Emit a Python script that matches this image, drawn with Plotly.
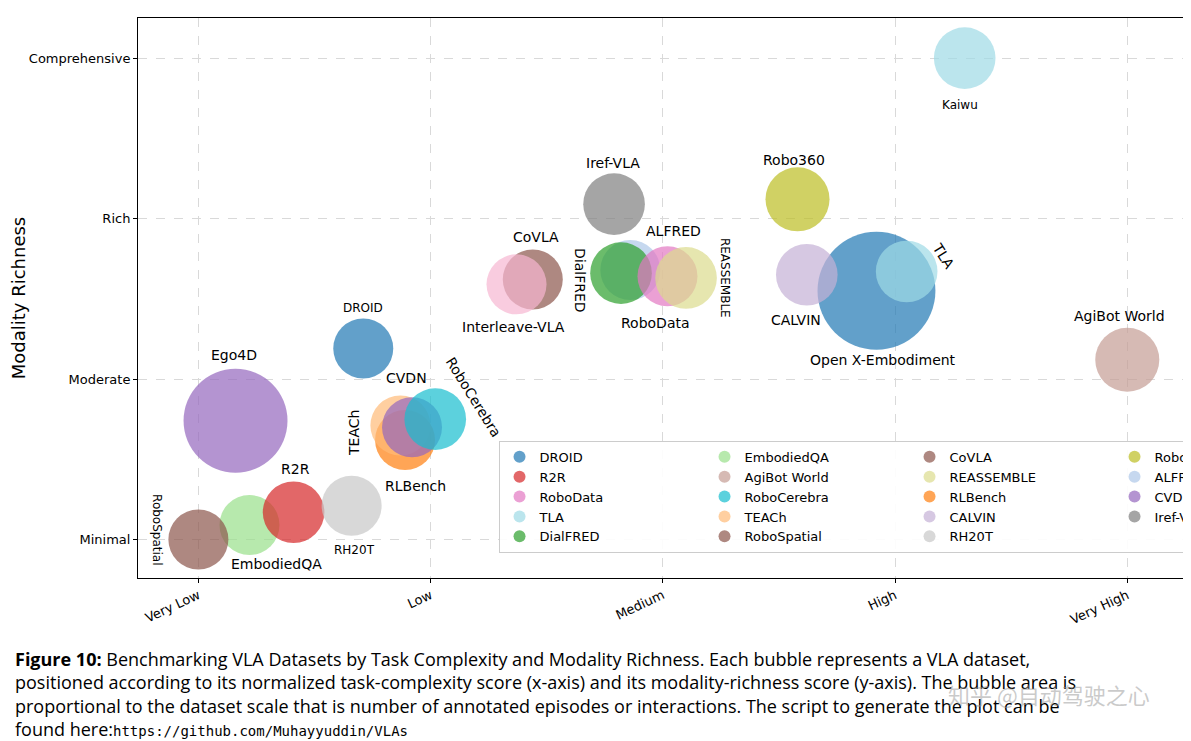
import plotly.graph_objects as go

x_ticks = ["Very Low", "Low", "Medium", "High", "Very High"]
y_ticks = ["Minimal", "Moderate", "Rich", "Comprehensive"]

names = ["DROID", "Open X-Embodiment", "ALFRED", "RLBench", "TEACh", "DialFRED",
         "EmbodiedQA", "R2R", "Ego4D", "CVDN", "CALVIN", "RoboSpatial",
         "CoVLA", "AgiBot World", "RoboData", "Interleave-VLA", "Iref-VLA", "RH20T",
         "Robo360", "REASSEMBLE", "RoboCerebra", "TLA", "Kaiwu"]
complexity = [0.71, 2.92, 1.86, 0.89, 0.87, 1.82,
              0.22, 0.41, 0.16, 0.92, 2.62, 0.0,
              1.44, 4.0, 2.02, 1.37, 1.79, 0.66,
              2.58, 2.10, 1.02, 3.05, 3.30]
richness = [1.19, 1.55, 1.68, 0.62, 0.71, 1.66,
            0.09, 0.17, 0.74, 0.70, 1.65, 0.0,
            1.62, 1.12, 1.64, 1.59, 2.09, 0.21,
            2.12, 1.63, 0.75, 1.67, 3.0]
scale = [36, 139, 36, 36, 36, 38,
         36, 38, 108, 36, 38, 36,
         36, 41, 36, 36, 38, 36,
         41, 38, 38, 38, 38]
colors = ["#1f77b4", "#1f77b4", "#aec7e8", "#ff7f0e", "#ffbb78", "#2ca02c",
          "#98df8a", "#d62728", "#9467bd", "#9467bd", "#c5b0d5", "#8c564b",
          "#8c564b", "#c49c94", "#e377c2", "#f7b6d2", "#7f7f7f", "#c7c7c7",
          "#bcbd22", "#dbdb8d", "#17becf", "#9edae5", "#9edae5"]

# label offsets in pixels (dx, dy screen) and rotation
label_off = {
    "DROID": (0, -41, 0), "Open X-Embodiment": (7, 69, 0), "ALFRED": (43, -39, 0),
    "RLBench": (10, 46, 0), "TEACh": (-47, 7, -90), "DialFRED": (-41, 7, 90),
    "EmbodiedQA": (27, 39, 0), "R2R": (2, -43, 0), "Ego4D": (-2, -66, 0),
    "CVDN": (-6, -49, 0), "CALVIN": (-11, 45, 0), "RoboSpatial": (-42, -10, 90),
    "CoVLA": (3, -43, 0), "AgiBot World": (-8, -44, 0), "RoboData": (-12, 47, 0),
    "Interleave-VLA": (-3, 43, 0), "Iref-VLA": (-1, -41, 0), "RH20T": (3, 44, 0),
    "Robo360": (-4, -39, 0), "REASSEMBLE": (39, 0, 90), "RoboCerebra": (38, -22, 58),
    "TLA": (37, -16, 58), "Kaiwu": (-5, 47, 0),
}
small = {"DROID", "RH20T", "Kaiwu", "RoboSpatial", "REASSEMBLE"}

fig = go.Figure()
# legend order (row-major) reproduces the 4-column matplotlib legend
order = [0, 6, 12, 18, 1, 7, 13, 19, 2, 8, 14, 20, 3, 9, 15, 21, 4, 10, 16, 22, 5, 11, 17]
for i in range(len(names)):
    fig.add_trace(go.Scatter(
        x=[complexity[i]], y=[richness[i]], mode="markers", name=names[i],
        marker=dict(size=[scale[i]], sizemode="area", sizeref=0.02,
                    color=colors[i], opacity=0.7, line=dict(width=0)),
        legendrank=order.index(i) + 1,
    ))
    dx, dy, ang = label_off[names[i]]
    fig.add_annotation(x=complexity[i], y=richness[i], text=names[i], showarrow=False,
                       xshift=dx, yshift=-dy, textangle=ang,
                       font=dict(size=12 if names[i] in small else 14, color="black"))

grid = dict(showgrid=True, gridcolor="#d9d9d9", griddash="dash", gridwidth=1,
            showline=True, linecolor="black", mirror=True, zeroline=False,
            ticks="outside", tickcolor="black", ticklen=4,
            tickfont=dict(size=13, color="black"))
fig.update_xaxes(range=[-0.26, 4.24], tickvals=[0, 1, 2, 3, 4], ticktext=x_ticks,
                 tickangle=-25, **grid)
fig.update_yaxes(range=[-0.24, 3.25], tickvals=[0, 1, 2, 3], ticktext=y_ticks,
                 title=dict(text="Modality Richness", font=dict(size=18, color="black"),
                            standoff=14), **grid)

fig.update_layout(
    width=1191, height=741, plot_bgcolor="white", paper_bgcolor="white",
    font=dict(family="DejaVu Sans"),
    margin=dict(l=130, r=16, t=10, b=171, autoexpand=False),
    legend=dict(orientation="h", x=0.345, y=0.245, xanchor="left", yanchor="top",
                entrywidth=160, itemsizing="constant", traceorder="normal",
                bordercolor="#cccccc", borderwidth=1, bgcolor="rgba(255,255,255,0.9)",
                font=dict(size=13, color="black"), tracegroupgap=0),
)

caption = ("<b>Figure 10:</b> Benchmarking VLA Datasets by Task Complexity and Modality Richness. Each bubble represents a VLA dataset,<br>"
           "positioned according to its normalized task-complexity score (x-axis) and its modality-richness score (y-axis). The bubble area is<br>"
           "proportional to the dataset scale that is number of annotated episodes or interactions. The script to generate the plot can be<br>"
           "found here:<span style='font-family:DejaVu Sans Mono;font-size:14px'>https://github.com/Muhayyuddin/VLAs</span>")
fig.add_annotation(xref="paper", yref="paper", x=-0.12, y=-0.12, xanchor="left", yanchor="top",
                   text=caption, showarrow=False, align="left",
                   font=dict(size=18, color="black", family="Open Sans"))
fig.add_annotation(xref="paper", yref="paper", x=0.97, y=-0.175, xanchor="right", yanchor="top",
                   text="知乎 @自动驾驶之心", showarrow=False,
                   font=dict(size=22, color="rgba(150,150,150,0.5)", family="Noto Sans CJK SC"))

fig.write_html("out.html")
